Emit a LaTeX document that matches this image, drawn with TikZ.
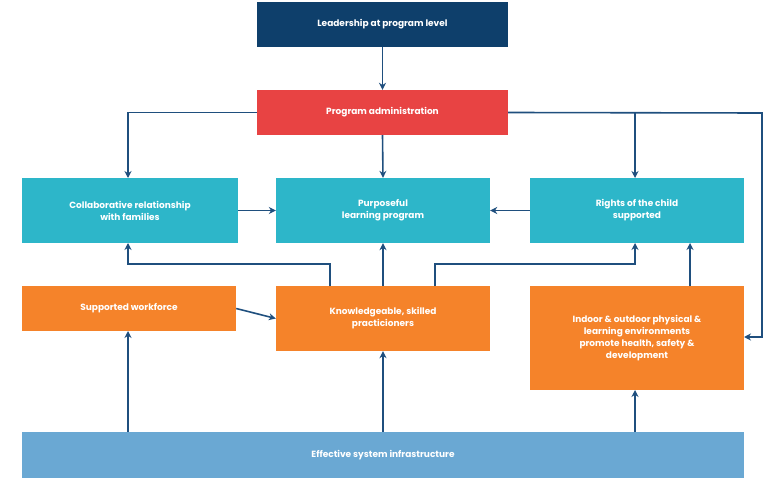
\documentclass[tikz,border=0pt]{standalone}
\usepackage{fontspec}
\setmainfont{Poppins}
\usetikzlibrary{arrows.meta}
\definecolor{dblue}{HTML}{0E3F6B}
\definecolor{red1}{HTML}{E84343}
\definecolor{teal1}{HTML}{2DB6C9}
\definecolor{orange1}{HTML}{F5832A}
\definecolor{lblue}{HTML}{6AA8D3}
\definecolor{arr}{HTML}{1F4F7E}
\begin{document}
\begin{tikzpicture}[x=1pt,y=-1pt,
 box/.style={draw=none,text=white,font=\fontsize{9}{12}\selectfont\bfseries,align=center,inner sep=0pt},
 ar/.style={draw=arr,line width=1.6pt,-{Stealth[length=7pt,width=7pt]}}]
\useasboundingbox (0,0) rectangle (768,481);
\newcommand{\bx}[6]{\fill[#6] (#2,#3) rectangle (#4,#5); \node[box,minimum width={#4-#2},minimum height={#5-#3}] (#1) at ({(#2+#4)/2},{(#3+#5)/2}) {};}
\bx{lead}{257}{2}{508}{47}{dblue}
\bx{adm}{257}{90}{508}{135}{red1}
\bx{col}{22}{178}{238}{243}{teal1}
\bx{pur}{276}{178}{490}{243}{teal1}
\bx{rig}{530}{178}{744}{243}{teal1}
\bx{sup}{22}{286}{236}{331}{orange1}
\bx{kno}{276}{286}{490}{351}{orange1}
\bx{ind}{530}{286}{744}{390}{orange1}
\bx{eff}{22}{432}{744}{478}{lblue}
\node[box] at (lead) {Leadership at program level};
\node[box] at (adm) {Program administration};
\node[box] at (col) {Collaborative relationship\\with families};
\node[box] at (pur) {Purposeful\\learning program};
\node[box] at (rig) {Rights of the child\\supported};
\node[box] at (sup) {Supported workforce};
\node[box] at (kno) {Knowledgeable, skilled\\practicioners};
\node[box] at (ind) {Indoor \& outdoor physical \&\\learning environments\\promote health, safety \&\\development};
\node[box] at (eff) {Effective system infrastructure};
\draw[ar] (lead.south) -- (adm.north);
\draw[ar] (adm.south) -- (pur.north);
\draw[ar] (adm.west) -| (128,178);
\draw[ar] (adm.east) -| (635,178);
\draw[ar] (adm.east) -- (762,113) |- (744,337);
\draw[ar] (col.east) -- (pur.west);
\draw[ar] (rig.west) -- (pur.east);
\draw[ar] (kno.north) -- (pur.south);
\draw[ar] (330,286) |- (128,264) -- (128,243);
\draw[ar] (435,286) |- (635,264) -- (635,243);
\draw[ar] (690,286) -- (690,243);
\draw[ar] (sup.east) -- (kno.west);
\draw[ar] (128,432) -- (128,331);
\draw[ar] (eff.north -| kno.south) -- (kno.south);
\draw[ar] (635,432) -- (635,390);
\end{tikzpicture}
\end{document}
